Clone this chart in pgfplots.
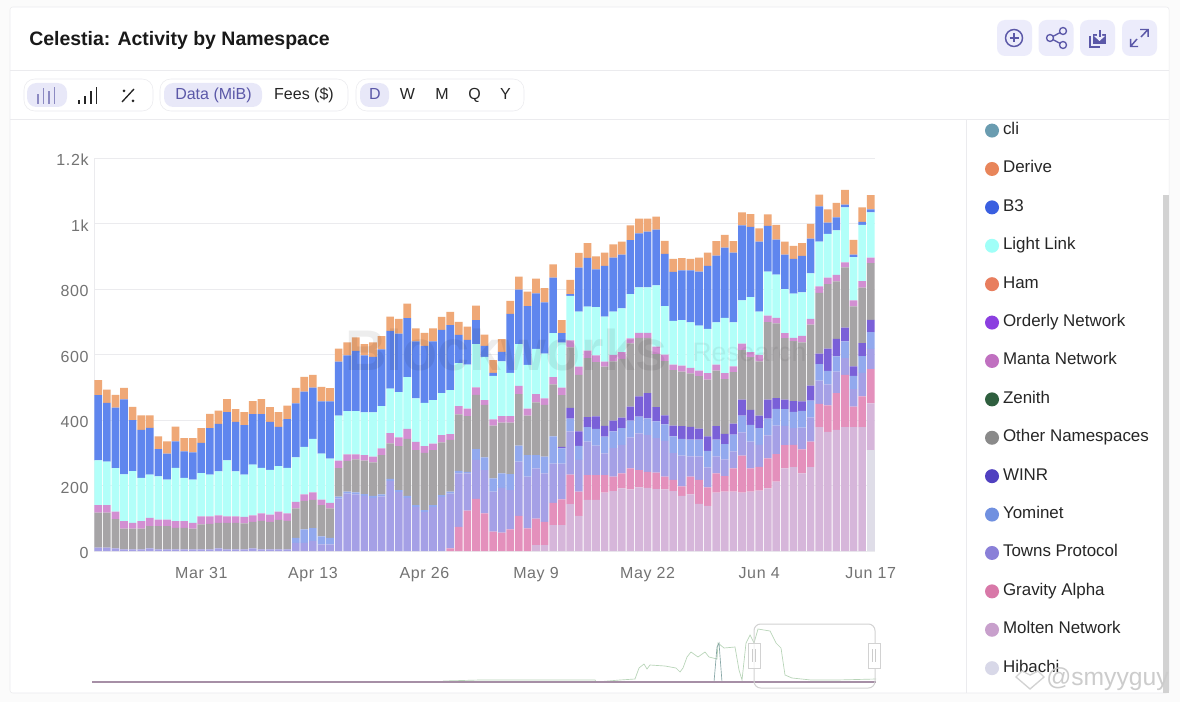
\documentclass[border=0pt]{standalone}
\usepackage{fontspec}
\setmainfont{Liberation Sans}
\newfontfamily\tickf[LetterSpace=4]{Liberation Sans}
\usepackage{pgfplots}
\usepackage{pgfplotstable}
\pgfplotsset{compat=1.18}

\definecolor{cHib}{HTML}{DFDDE8}
\definecolor{cMol}{HTML}{D6B6DA}
\definecolor{cGra}{HTML}{E490BC}
\definecolor{cTow}{HTML}{A5A0E6}
\definecolor{cYom}{HTML}{92A9EE}
\definecolor{cWin}{HTML}{7A60D8}
\definecolor{cOth}{HTML}{A6A4A6}
\definecolor{cMan}{HTML}{D28FD2}
\definecolor{cLig}{HTML}{B2FFF9}
\definecolor{cB3}{HTML}{5F86EE}
\definecolor{cDer}{HTML}{EFA877}
\definecolor{accent}{HTML}{5B58A8}
\definecolor{pill}{HTML}{E8E8F8}
\definecolor{btn}{HTML}{ECECFB}
\definecolor{rule}{HTML}{EBEBEE}
% legend dots are stronger than the bars
\definecolor{cli}{HTML}{6A9CB0}
\definecolor{derive}{HTML}{E8855A}
\definecolor{bthree}{HTML}{3A5FE0}
\definecolor{light}{HTML}{A0FFF8}
\definecolor{ham}{HTML}{E87E5E}
\definecolor{orderly}{HTML}{8B3FE0}
\definecolor{manta}{HTML}{C070C0}
\definecolor{zenith}{HTML}{2F5F3F}
\definecolor{other}{HTML}{8A8A8A}
\definecolor{winr}{HTML}{5040C0}
\definecolor{yominet}{HTML}{7090E0}
\definecolor{towns}{HTML}{8A80D8}
\definecolor{gravity}{HTML}{D878A8}
\definecolor{molten}{HTML}{C8A0CC}
\definecolor{hibachi}{HTML}{D8D8E8}

% MiB per day, bottom of the stack first
\pgfplotstableread{
idx hib mol gra tow yom win oth man lig b3 der
0 0 0 0 10 0 0 107 23 137 199 46
1 0 0 0 10 0 0 107 23 133 179 41
2 0 0 0 8 0 0 89 23 133 185 39
3 0 0 0 5 0 0 63 23 143 229 35
4 0 0 0 5 0 0 63 18 158 156 40
5 0 0 0 5 0 0 63 23 132 147 44
6 0 0 0 8 0 0 68 25 132 143 38
7 0 0 0 5 0 0 71 20 132 83 39
8 0 0 0 5 0 0 71 20 122 79 38
9 0 0 0 5 0 0 66 20 163 81 45
10 0 0 0 5 0 0 66 20 132 81 41
11 0 0 0 5 0 0 63 18 132 83 44
12 0 0 0 5 0 0 76 25 132 92 45
13 0 0 0 5 0 0 78 23 127 142 44
14 0 0 0 8 0 0 78 23 134 145 41
15 0 0 0 5 0 0 81 20 171 147 40
16 0 0 0 5 0 0 81 20 137 151 39
17 0 0 0 5 0 0 79 20 129 151 40
18 0 0 0 8 0 0 81 20 155 154 40
19 0 0 0 5 0 0 87 23 139 164 46
20 0 0 0 5 0 0 84 22 137 146 45
21 0 0 0 5 0 0 90 25 139 120 45
22 0 0 0 5 0 0 87 23 139 149 41
23 0 0 0 25 15 0 90 20 136 165 47
24 0 0 0 25 41 0 87 20 145 169 45
25 0 0 0 31 39 0 86 23 163 157 39
26 0 0 0 20 25 0 95 17 140 160 44
27 0 0 0 20 20 0 90 17 135 175 40
28 0 0 0 160 6 0 87 23 137 165 40
29 0 0 0 175 6 0 94 20 132 170 40
30 0 0 0 173 6 0 101 15 132 184 41
31 0 0 0 168 6 0 102 17 130 174 35
32 0 0 0 162 6 0 103 17 135 170 44
33 0 0 0 167 6 0 120 20 129 174 40
34 0 0 0 214 6 0 109 31 136 176 44
35 0 0 0 180 6 0 134 27 138 179 45
36 0 0 0 162 6 0 174 31 158 180 44
37 0 0 0 134 6 0 168 25 133 174 40
38 0 0 0 119 6 0 175 20 132 174 40
39 0 0 0 134 6 0 168 20 133 179 40
40 0 0 0 165 6 0 161 22 128 193 40
41 0 0 8 167 6 0 158 18 134 199 40
42 0 0 74 163 8 0 172 25 132 86 40
43 0 0 123 114 5 0 170 23 134 76 40
44 0 0 159 119 33 0 166 23 132 73 44
45 0 0 115 132 39 0 160 15 132 33 35
46 0 0 59 122 41 0 161 19 133 9 39
47 0 0 56 137 44 0 155 20 167 29 39
48 0 0 66 120 49 0 157 20 132 180 40
49 0 0 107 166 49 0 157 25 128 166 40
50 0 0 69 158 66 0 120 22 133 180 44
51 0 18 81 153 41 0 161 25 138 170 45
52 0 18 71 148 51 0 158 20 137 156 44
53 0 79 68 120 83 0 159 22 134 170 40
54 0 79 79 109 46 5 158 23 137 29 40
55 0 143 90 132 39 33 185 21 136 5 44
56 0 107 74 97 43 44 173 25 168 134 45
57 0 156 76 102 44 31 180 23 134 149 45
58 0 156 76 90 51 38 166 20 148 115 40
59 0 178 54 66 51 33 181 15 138 155 40
60 0 183 44 87 51 33 181 20 132 165 40
61 0 191 46 87 51 32 180 20 134 164 40
62 0 188 64 95 51 43 193 15 135 165 45
63 0 194 53 112 51 62 179 15 139 165 45
64 0 193 49 112 51 77 169 15 139 170 40
65 0 189 50 106 51 43 162 23 187 170 40
66 0 188 39 109 51 27 166 20 148 159 40
67 0 183 34 82 51 33 169 17 134 149 40
68 0 168 29 94 51 39 167 18 139 152 37
69 0 173 54 62 51 39 163 17 139 159 35
70 0 144 73 72 51 34 160 17 137 165 43
71 0 138 56 61 51 44 173 20 135 193 40
72 0 178 59 52 51 41 170 18 129 204 44
73 0 181 48 51 46 32 167 18 169 214 39
74 0 181 71 52 51 34 157 18 134 213 35
75 0 178 113 71 51 49 151 20 132 229 40
76 0 181 71 82 51 46 161 15 168 215 39
77 0 184 73 67 51 38 166 20 132 214 40
78 0 191 92 70 51 58 237 20 134 140 35
79 0 212 84 87 51 33 228 17 132 107 45
80 0 252 71 59 51 29 188 15 135 105 40
81 0 256 68 51 50 33 183 10 135 106 40
82 0 237 73 67 51 29 180 20 133 111 39
83 0 256 78 74 51 46 186 18 139 106 45
84 0 378 71 71 51 32 185 20 137 107 36
85 0 364 81 64 41 68 197 20 133 35 40
86 0 370 112 66 46 54 175 20 136 40 44
87 0 378 160 51 51 42 184 15 168 9 45
88 0 378 63 53 41 29 183 18 132 8 45
89 0 378 94 72 51 40 169 20 172 9 44
90 308 143 104 62 51 38 173 17 138 9 44
}\namespaces

\pgfplotsset{legdot/.style={legend image code/.code={\path[fill=#1,draw=none] (0.3cm-3pt,0cm) circle (5.25pt);}}}

\begin{document}
\begin{tikzpicture}
\begin{scope}[x=0.75pt,y=-0.75pt]
  \fill[white!97!gray] (0,0) rectangle (1180,702);
  \path[use as bounding box] (0,0) rectangle (1180,702);
  \draw[rule,fill=white,rounded corners=2pt] (10,7) rectangle (1169,693);
  \draw[rule] (10,70) -- (1169,70);
  \draw[rule] (10,119.5) -- (1169,119.5);
  \draw[rule] (966,120) -- (966,693);
  \fill[gray!35] (1163,195) rectangle (1169,693);
  \node[anchor=base west,inner sep=0,font=\fontsize{14.6}{18}\selectfont\bfseries,text=black!90] at (29,45.5) {Celestia: Activity by Namespace};

  % top right buttons
  \foreach \x in {997,1038.5,1080,1122}
    \fill[btn,rounded corners=6pt] (\x,20) rectangle +(35,36);
  \draw[accent,line width=1.1pt] (1014,38) circle (8.5);
  \draw[accent,line width=1pt] (1009.5,38) -- (1018.5,38) (1014,33.5) -- (1014,42.5);
  \draw[accent,line width=1pt] (1063,31) -- (1050,38) -- (1063,45);
  \foreach \p in {(1063,31),(1050,38),(1063,45)}
    \draw[accent,line width=1pt,fill=btn] \p circle (3.5);
  \draw[accent,line width=1.1pt] (1090,36) -- (1090,47) -- (1100,47);
  \fill[accent] (1093,34) rectangle (1106,44);
  \fill[btn] (1097,31) -- (1102,31) -- (1102,36) -- (1105,36) -- (1099.5,41) -- (1094,36) -- (1097,36) -- cycle;
  \fill[accent] (1098.5,30) rectangle (1100.5,37);
  \draw[accent,line width=1.1pt] (1137,39) -- (1130.5,46.5) (1130.5,39) -- (1130.5,46.5) -- (1138,46.5);
  \draw[accent,line width=1.1pt] (1141,37) -- (1148,29.5) (1140,29.5) -- (1148,29.5) -- (1148,37);

  % toolbar pills
  \draw[rule,fill=white,rounded corners=8pt] (24,79) rectangle (153,111);
  \draw[rule,fill=white,rounded corners=8pt] (160,79) rectangle (348,111);
  \draw[rule,fill=white,rounded corners=8pt] (356,79) rectangle (524,111);
  \fill[pill,rounded corners=7pt] (27,83) rectangle (67,107);
  \fill[pill,rounded corners=7pt] (164,83) rectangle (262,107);
  \fill[pill,rounded corners=7pt] (360,83) rectangle (389,107);
  \draw[accent!70,line width=1pt] (38,104) -- (38,94) (43.5,104) -- (43.5,88) (49,104) -- (49,91) (54.5,104) -- (54.5,87);
  \draw[black!85,line width=1pt] (79,104) -- (79,100) (85,104) -- (85,96) (91,104) -- (91,91) (96.5,104) -- (96.5,87);
  \draw[black!85,line width=1pt] (122,102) -- (134,89);
  \fill[black!85] (124,91) circle (1.5) (133,101) circle (1.5);
  \begin{scope}[every node/.style={anchor=base,inner sep=0,font=\fontsize{12}{14}\selectfont}]
    \node[text=accent] at (213.5,100) {Data (MiB)};
    \node[text=black!85] at (304,100) {Fees (\$)};
    \node[text=accent] at (375,100) {D};
    \node[text=black!85] at (407.5,100) {W};
    \node[text=black!85] at (442,100) {M};
    \node[text=black!85] at (474.5,100) {Q};
    \node[text=black!85] at (505.5,100) {Y};
  \end{scope}
\end{scope}

\begin{axis}[
  at={(70.5pt,-413.25pt)}, anchor=south west,
  scale only axis, width=585.75pt, height=294.75pt,
  ybar stacked, bar width=5.75pt,
  xmin=-0.5, xmax=90.5, ymin=0, ymax=1200,
  xtick={12,25,38,51,64,77,90},
  xticklabels={Mar 31,Apr 13,Apr 26,May 9,May 22,Jun 4,Jun 17},
  ytick={0,200,400,600,800,1000,1200},
  yticklabels={0,200,400,600,800,1k,1.2k},
  major tick length=0pt,
  ymajorgrids, grid style={rule,line width=0.75pt},
  axis x line*=bottom, axis y line*=left,
  axis line style={rule,line width=0.75pt,-},
  tick label style={font=\fontsize{12}{14}\selectfont\tickf,text=black!55},
  xticklabel style={yshift=-9pt},
  yticklabel style={xshift=-0.5pt,yshift=-1.5pt},
  legend cell align=left,
  legend style={draw=none,fill=none,at={(1.1354,1.101)},anchor=north west,
    font=\fontsize{12.7}{14}\selectfont,text=black!85,row sep=14.8pt,
    nodes={text height=10pt,text depth=4pt,inner ysep=0pt,inner xsep=3pt}},
]
\addlegendimage{legdot=cli}
\addlegendentry{cli}
\addlegendimage{legdot=derive}
\addlegendentry{Derive}
\addlegendimage{legdot=bthree}
\addlegendentry{B3}
\addlegendimage{legdot=light}
\addlegendentry{Light Link}
\addlegendimage{legdot=ham}
\addlegendentry{Ham}
\addlegendimage{legdot=orderly}
\addlegendentry{Orderly Network}
\addlegendimage{legdot=manta}
\addlegendentry{Manta Network}
\addlegendimage{legdot=zenith}
\addlegendentry{Zenith}
\addlegendimage{legdot=other}
\addlegendentry{Other Namespaces}
\addlegendimage{legdot=winr}
\addlegendentry{WINR}
\addlegendimage{legdot=yominet}
\addlegendentry{Yominet}
\addlegendimage{legdot=towns}
\addlegendentry{Towns Protocol}
\addlegendimage{legdot=gravity}
\addlegendentry{Gravity Alpha}
\addlegendimage{legdot=molten}
\addlegendentry{Molten Network}
\addlegendimage{legdot=hibachi}
\addlegendentry{Hibachi}

\addplot[forget plot,fill=cHib,draw=none] table[x=idx,y=hib] {\namespaces};
\addplot[forget plot,fill=cMol,draw=none] table[x=idx,y=mol] {\namespaces};
\addplot[forget plot,fill=cGra,draw=none] table[x=idx,y=gra] {\namespaces};
\addplot[forget plot,fill=cTow,draw=none] table[x=idx,y=tow] {\namespaces};
\addplot[forget plot,fill=cYom,draw=none] table[x=idx,y=yom] {\namespaces};
\addplot[forget plot,fill=cWin,draw=none] table[x=idx,y=win] {\namespaces};
\addplot[forget plot,fill=cOth,draw=none] table[x=idx,y=oth] {\namespaces};
\addplot[forget plot,fill=cMan,draw=none] table[x=idx,y=man] {\namespaces};
\addplot[forget plot,fill=cLig,draw=none] table[x=idx,y=lig] {\namespaces};
\addplot[forget plot,fill=cB3,draw=none] table[x=idx,y=b3] {\namespaces};
\addplot[forget plot,fill=cDer,draw=none] table[x=idx,y=der] {\namespaces};
\end{axis}

% navigator under the chart
\begin{axis}[
  at={(69pt,-511.5pt)}, anchor=south west,
  scale only axis, width=588pt, height=45pt,
  hide axis, xmin=92, xmax=876, ymin=0, ymax=60, clip=false,
]
\addplot[line width=0.5pt,color=green!25!gray!45] coordinates {
  (443,1)(480,2)(520,2)(560,2)(595,2)(596,0)(620,2)(635,3)(639,14)(644,18)(647,13)(650,17)
  (665,16)(676,14)(680,10)(683,14)(687,25)(691,30)(698,25)(705,30)(709,25)(717,23)(718,39)
  (724,34)(735,35)(739,12)(742,2)(746,39)(750,47)(754,39)(758,53)(770,51)(776,39)(781,34)
  (785,7)(792,4)(811,2)(837,2)(876,3)};
\addplot[line width=0.5pt,color=teal!35!gray!70] coordinates {(714,0)(717,35)(719,39)(722,0)};
\addplot[line width=0.8pt,color=violet!25!gray!70] coordinates {(92,0)(876,0)};
\end{axis}

\begin{scope}[x=0.75pt,y=-0.75pt]
  % range selector
  \draw[gray!35,line width=0.75pt,rounded corners=5pt] (754,624) rectangle (875,688);
  \draw[gray!35,fill=white,fill opacity=0.7] (748,643) rectangle (760,668);
  \draw[gray!35,fill=white] (868,643) rectangle (880,668);
  \draw[gray!40] (752.5,649) -- (752.5,662) (755.5,649) -- (755.5,662) (872.5,649) -- (872.5,662) (875.5,649) -- (875.5,662);
  % watermarks
  \node[anchor=west,inner sep=0,opacity=0.07,font=\fontsize{43}{50}\selectfont\bfseries] at (345,350) {Blockworks};
  \node[anchor=west,inner sep=0,opacity=0.06,font=\fontsize{20}{24}\selectfont] at (692,352) {Research};
  \node[anchor=west,inner sep=0,text=gray!40,font=\fontsize{18.5}{20}\selectfont] at (1046,679) {@smyyguy};
  \draw[gray!35,line width=1pt] (1030,689) -- (1016,677) -- (1022,671) -- (1030,675) -- (1038,671) -- (1044,677) -- cycle;
\end{scope}
\end{tikzpicture}
\end{document}
